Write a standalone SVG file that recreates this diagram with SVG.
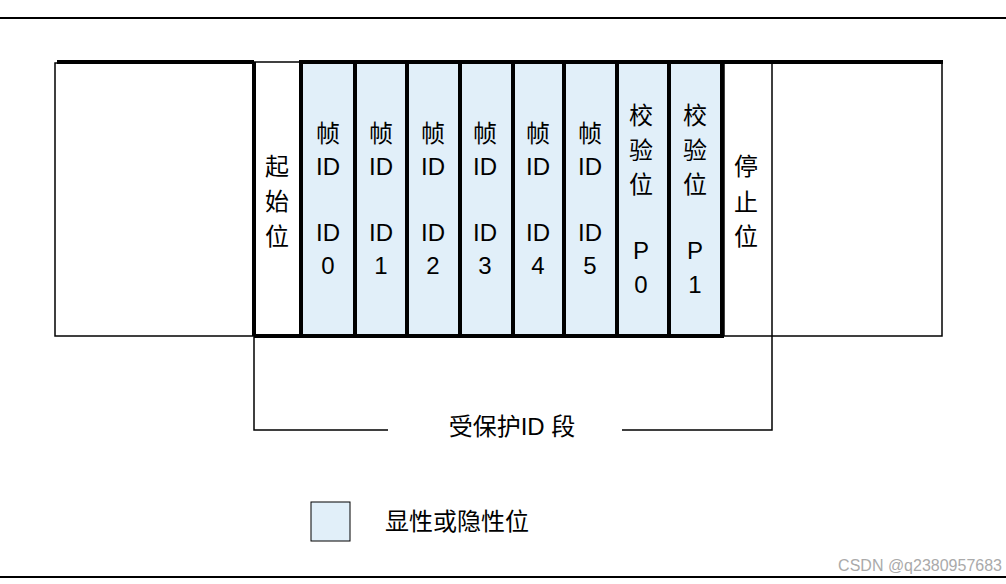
<svg xmlns="http://www.w3.org/2000/svg" width="1006" height="584" viewBox="0 0 1006 584">
<style>
text{font-family:"Liberation Sans","Noto Sans CJK SC",sans-serif;font-size:24px;fill:#000;text-anchor:middle;dominant-baseline:central}
.thin{stroke:#000;stroke-width:1.5;fill:none}
.thick{stroke:#000;stroke-width:4;fill:none}
.blue{fill:#e1eff9}
</style>
<line x1="0" y1="18" x2="1006" y2="18" stroke="#000" stroke-width="2"/>
<line x1="0" y1="577" x2="1006" y2="577" stroke="#000" stroke-width="2"/>
<g id="left-box"><rect x="55" y="63" width="198" height="273" class="thin"/><line x1="57" y1="62" x2="254" y2="62" class="thick"/></g>
<g id="start-bit"><line x1="254" y1="62" x2="301" y2="62" class="thin"/><line x1="254" y1="62" x2="254" y2="336" class="thick"/>
<text x="277" y="166">起</text><text x="277" y="201">始</text><text x="277" y="236">位</text></g>
<g id="blue-cells">
<rect x="301" y="62" width="421" height="274" class="blue"/>
<rect x="301" y="62" width="421" height="274" class="thick"/>
<line x1="355" y1="62" x2="355" y2="336" class="thick"/><line x1="407" y1="62" x2="407" y2="336" class="thick"/>
<line x1="460" y1="62" x2="460" y2="336" class="thick"/><line x1="513" y1="62" x2="513" y2="336" class="thick"/>
<line x1="564" y1="62" x2="564" y2="336" class="thick"/><line x1="617" y1="62" x2="617" y2="336" class="thick"/>
<line x1="669" y1="62" x2="669" y2="336" class="thick"/>
<line x1="254" y1="336" x2="724" y2="336" class="thick"/>
</g>
<g id="id0"><text x="328" y="133">帧</text><text x="328" y="166">ID</text><text x="328" y="232">ID</text><text x="328" y="265">0</text></g>
<g id="id1"><text x="381" y="133">帧</text><text x="381" y="166">ID</text><text x="381" y="232">ID</text><text x="381" y="265">1</text></g>
<g id="id2"><text x="433" y="133">帧</text><text x="433" y="166">ID</text><text x="433" y="232">ID</text><text x="433" y="265">2</text></g>
<g id="id3"><text x="485" y="133">帧</text><text x="485" y="166">ID</text><text x="485" y="232">ID</text><text x="485" y="265">3</text></g>
<g id="id4"><text x="538" y="133">帧</text><text x="538" y="166">ID</text><text x="538" y="232">ID</text><text x="538" y="265">4</text></g>
<g id="id5"><text x="590" y="133">帧</text><text x="590" y="166">ID</text><text x="590" y="232">ID</text><text x="590" y="265">5</text></g>
<g id="p0"><text x="641" y="115">校</text><text x="641" y="150">验</text><text x="641" y="184">位</text><text x="641" y="250">P</text><text x="641" y="284">0</text></g>
<g id="p1"><text x="695" y="115">校</text><text x="695" y="150">验</text><text x="695" y="184">位</text><text x="695" y="250">P</text><text x="695" y="284">1</text></g>
<g id="stop-bit"><text x="746" y="166">停</text><text x="746" y="202">止</text><text x="746" y="236">位</text></g>
<g id="right-box"><rect x="724" y="63" width="218" height="273" class="thin"/><line x1="722" y1="62" x2="943" y2="62" class="thick"/></g>
<g id="connectors">
<polyline points="254,336 254,430 388,430" class="thin"/>
<polyline points="772,63 772,430 622,430" class="thin"/>
</g>
<g id="bracket-label"><text x="512" y="426">受保护ID 段</text></g>
<g id="legend"><rect x="311" y="502" width="39" height="39" class="blue" stroke="#000" stroke-width="1"/>
<text x="385" y="521" style="text-anchor:start">显性或隐性位</text></g>
<text x="1002" y="565" style="text-anchor:end;font-size:16px;fill:#aaa">CSDN @q2380957683</text>
</svg>
